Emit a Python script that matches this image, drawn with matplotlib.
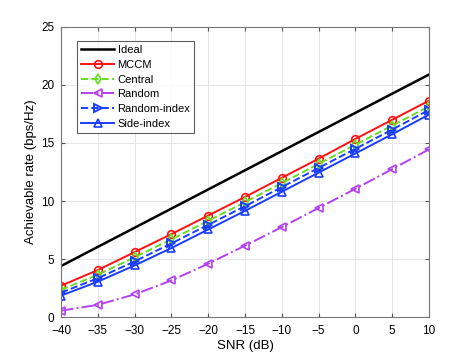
import matplotlib
matplotlib.use("Agg")
import matplotlib.pyplot as plt

snr = [-40, -35, -30, -25, -20, -15, -10, -5, 0, 5, 10]
ideal = [4.4, 6.05, 7.7, 9.35, 11.0, 12.65, 14.3, 15.95, 17.6, 19.25, 20.9]
mccm = [2.7, 4.05, 5.6, 7.15, 8.75, 10.35, 12.0, 13.65, 15.35, 17.0, 18.65]
central = [2.35, 3.65, 5.15, 6.7, 8.3, 9.9, 11.55, 13.2, 14.85, 16.5, 18.15]
random_ = [0.55, 1.05, 1.95, 3.15, 4.6, 6.15, 7.75, 9.4, 11.05, 12.75, 14.45]
random_index = [2.1, 3.35, 4.8, 6.35, 7.95, 9.55, 11.2, 12.85, 14.5, 16.15, 17.85]
side_index = [1.85, 3.05, 4.45, 5.95, 7.55, 9.15, 10.8, 12.45, 14.1, 15.75, 17.45]

plt.rcParams['font.family'] = ['Liberation Sans', 'DejaVu Sans']
fig = plt.figure(figsize=(4.74, 3.55), dpi=100)
ax = fig.add_axes([0.129, 0.107, 0.776, 0.817])

ms = 5.5
ax.plot(snr, ideal, '-', color='black', lw=1.8, label='Ideal')
ax.plot(snr, mccm, '-', color='#ff1010', lw=1.4, marker='o', ms=ms, mfc='none', mew=1.2, label='MCCM')
ax.plot(snr, central, '--', color='#66dd22', lw=1.4, marker='d', ms=ms, mfc='none', mew=1.2, label='Central')
ax.plot(snr, random_, '-.', color='#b440f0', lw=1.4, marker='<', ms=ms, mfc='none', mew=1.2, label='Random')
ax.plot(snr, random_index, '--', color='#1a3cff', lw=1.4, marker='>', ms=ms, mfc='none', mew=1.4, label='Random-index')
ax.plot(snr, side_index, '-', color='#1a3cff', lw=1.4, marker='^', ms=ms, mfc='none', mew=1.2, label='Side-index')

ax.set_xlim(-40, 10)
ax.set_ylim(0, 25)
ax.set_xticks(snr)
ax.set_yticks([0, 5, 10, 15, 20, 25])
ax.grid(True, color='#e6e6e6', lw=0.7)
ax.set_axisbelow(True)
ax.tick_params(direction='in', top=True, right=True, labelsize=8.5, color='#555555', length=3)
ax.tick_params(axis='x', pad=6)
ax.tick_params(axis='y', pad=5)
for s in ax.spines.values():
    s.set_color('#777777')
    s.set_linewidth(0.8)
ax.set_xlabel('SNR (dB)', fontsize=9.5, labelpad=2)
ax.set_ylabel('Achievable rate (bps/Hz)', fontsize=9.5, labelpad=3)

leg = ax.legend(loc='upper left', bbox_to_anchor=(0.043, 0.95), fontsize=8, frameon=True,
                fancybox=False, edgecolor='#333333', handlelength=3.0, borderpad=0.35,
                labelspacing=0.42, handletextpad=0.3, borderaxespad=0)
leg.get_frame().set_linewidth(0.8)

fig.savefig('out.png', dpi=100)
